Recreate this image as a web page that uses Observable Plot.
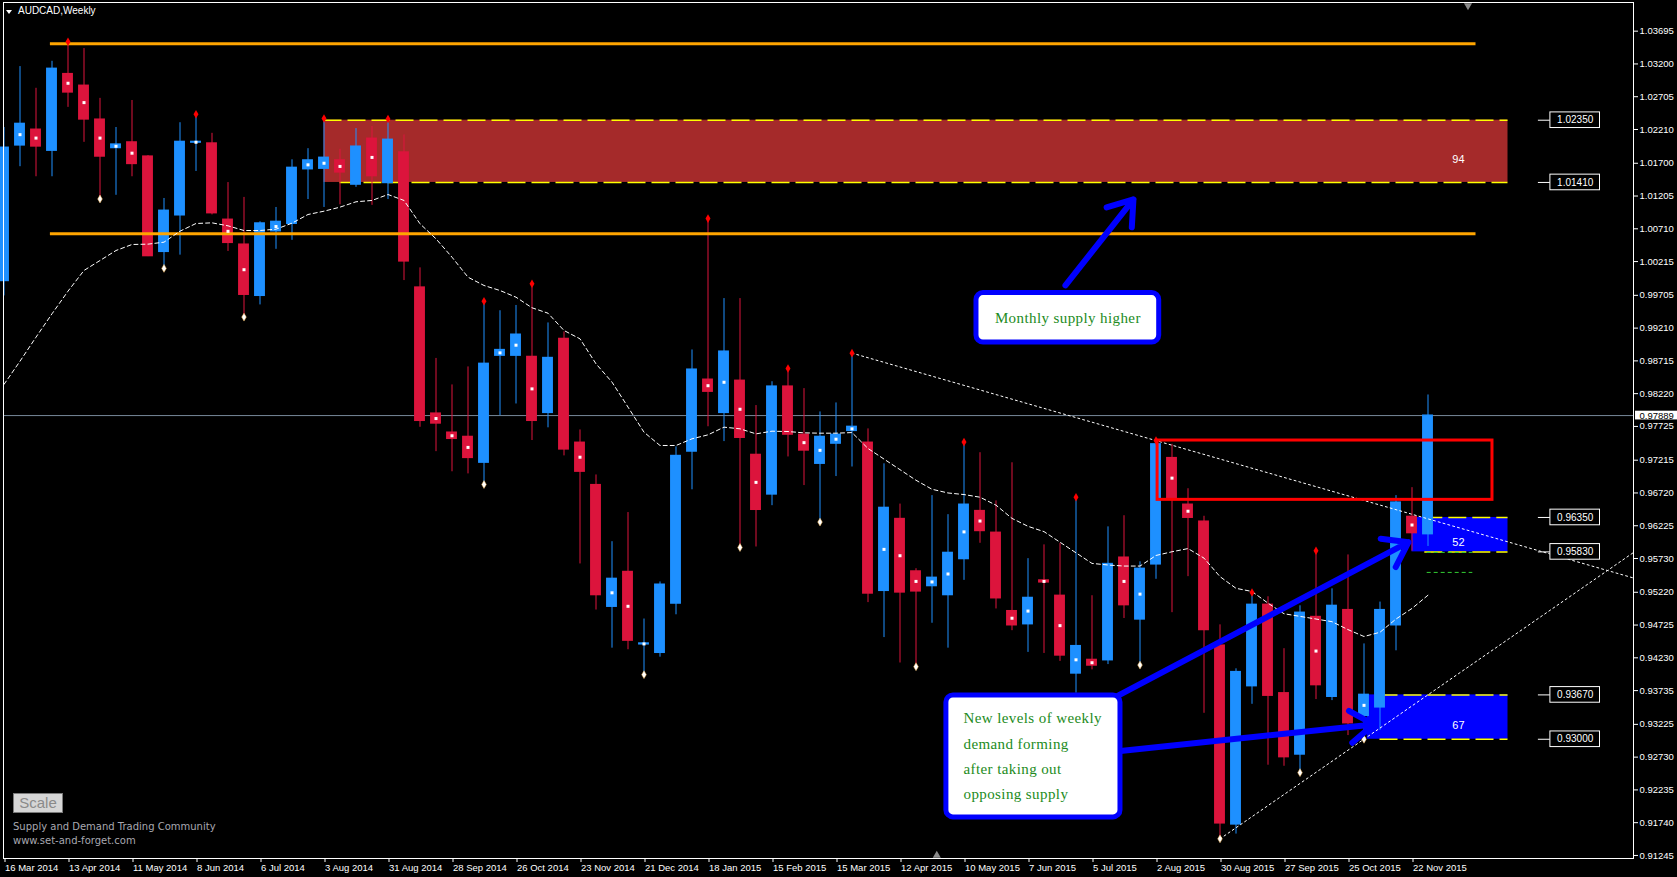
<!DOCTYPE html>
<html>
<head>
<meta charset="utf-8">
<script src="https://cdn.jsdelivr.net/npm/d3@7"></script>
<script src="https://cdn.jsdelivr.net/npm/@observablehq/plot@0.6"></script>
<style>
html,body{margin:0;padding:0;background:#000;}
#wrap{position:relative;width:1677px;height:877px;overflow:hidden;background:#000;}
#wrap svg{display:block;}
#wrap svg g[font-family*="Serif"]{letter-spacing:0.4px;}
.ov{position:absolute;white-space:nowrap;}
#tri{left:6px;top:10px;width:0;height:0;border-left:3px solid transparent;border-right:3px solid transparent;border-top:4px solid #fff;}
#title{left:18px;top:5px;font:10px "Liberation Sans",Arial,sans-serif;color:#fff;}
#scale{left:13px;top:793px;width:48px;height:18px;background:#d6d6d6;border:1px solid #7a7a7a;font:15px "Liberation Sans",Arial,sans-serif;color:#8a8a8a;line-height:18px;text-align:center;}
#cap1{left:13px;top:821px;font:10px "DejaVu Sans",Verdana,sans-serif;color:#a8a8b0;}
#cap2{left:13px;top:835px;font:10px "DejaVu Sans",Verdana,sans-serif;color:#a8a8b0;}
</style>
</head>
<body>
<div id="wrap"></div>
<script>
// ---- data ----
const dateLabels = ["16 Mar 2014","13 Apr 2014","11 May 2014","8 Jun 2014","6 Jul 2014","3 Aug 2014","31 Aug 2014","28 Sep 2014","26 Oct 2014","23 Nov 2014","21 Dec 2014","18 Jan 2015","15 Feb 2015","15 Mar 2015","12 Apr 2015","10 May 2015","7 Jun 2015","5 Jul 2015","2 Aug 2015","30 Aug 2015","27 Sep 2015","25 Oct 2015","22 Nov 2015"];
const labelEvery = 4; // weeks between date labels

const opens = [0.99920,1.01968,1.02208,1.01888,1.03048,1.02872,1.02360,1.01928,1.02016,1.01802,
1.00360,1.00912,1.02010,1.02000,1.00848,1.00472,0.99696,1.00672,1.00784,1.01608,
1.01616,1.01744,1.01376,1.02072,1.01400,1.01864,0.99824,0.97920,0.97632,0.97568,
0.97176,0.98792,0.98792,0.98776,0.97928,0.99048,0.97480,0.96840,0.95000,0.95528,
0.94432,0.94304,0.95048,0.97344,0.98432,0.97928,0.98416,0.97296,0.96696,0.98328,
0.97600,0.97160,0.97464,0.97656,0.97480,0.95240,0.96328,0.95536,0.95312,0.95176,
0.95720,0.96448,0.96120,0.94936,0.94736,0.95400,0.95168,0.93992,0.94200,0.94192,
0.95744,0.94808,0.95640,0.97248,0.96544,0.96288,0.94416,0.91712,0.93800,0.95032,
0.93696,0.92768,0.94848,0.93640,0.94952,0.93352,0.93480,0.94720,0.96360,0.96096];
const highs = [1.02240,1.03160,1.02832,1.03240,1.03536,1.03432,1.02680,1.02240,1.02648,1.01816,
1.01168,1.02312,1.02440,1.02152,1.01408,1.01184,1.00816,1.01032,1.01752,1.01920,
1.02376,1.01912,1.02224,1.02256,1.02368,1.02128,1.00120,0.98752,0.98352,0.98624,
0.99616,0.99472,0.99552,0.99880,0.99288,0.99152,0.97672,0.96992,0.95984,0.96424,
0.94816,0.95376,0.97416,0.98880,1.00864,0.99656,0.99656,0.98040,0.98400,0.98600,
0.98296,0.97944,0.98080,0.98832,0.97688,0.97160,0.96552,0.95576,0.96680,0.96392,
0.97488,0.97328,0.96600,0.97176,0.95728,0.95936,0.95960,0.96656,0.95168,0.96208,
0.96376,0.95680,0.97512,0.97456,0.96784,0.96368,0.94728,0.94064,0.95216,0.95152,
0.94368,0.95016,0.95848,0.95272,0.95784,0.94440,0.95072,0.96680,0.96800,0.98200];
const lows = [0.99696,1.01648,1.01496,1.01496,1.02544,1.02016,1.01160,1.01216,1.01496,1.00290,
1.00112,1.00312,1.01576,1.00920,1.00368,0.99376,0.99560,1.00400,1.00536,1.01152,
1.01032,1.01072,1.01336,1.01064,1.01152,0.99928,0.97712,0.97344,0.97040,0.97008,
0.96848,0.97888,0.98064,0.97512,0.97704,0.97280,0.95648,0.94952,0.94376,0.94352,
0.93976,0.94240,0.94880,0.96768,0.97720,0.97496,0.95896,0.95904,0.96528,0.97264,
0.96832,0.96280,0.96968,0.97112,0.95064,0.94536,0.94152,0.94096,0.94752,0.94376,
0.95400,0.95960,0.94968,0.94640,0.94312,0.94296,0.94176,0.93696,0.94048,0.94128,
0.94824,0.94120,0.95416,0.94912,0.95456,0.93392,0.91496,0.91568,0.93528,0.92608,
0.92592,0.92496,0.93600,0.93584,0.93056,0.93000,0.93136,0.94336,0.95840,0.95912];
const closes = [1.01936,1.02296,1.01952,1.03128,1.02768,1.02360,1.01800,1.01984,1.01688,1.00296,
1.00984,1.02024,1.02024,1.00944,1.00496,0.99712,1.00792,1.00816,1.01632,1.01744,
1.01784,1.01560,1.01952,1.01504,1.02056,1.00216,0.97808,0.97768,0.97536,0.97248,
0.98672,0.98880,0.99112,0.97808,0.98760,0.97376,0.97040,0.95176,0.95424,0.94488,
0.94448,0.95336,0.97280,0.98584,0.98248,0.98856,0.97552,0.96464,0.98328,0.97600,
0.97360,0.97568,0.97600,0.97720,0.95200,0.96496,0.95216,0.95232,0.95440,0.95816,
0.96544,0.96144,0.95128,0.94720,0.95136,0.95368,0.94264,0.94408,0.94112,0.95648,
0.95024,0.95576,0.97456,0.96640,0.96344,0.94648,0.91728,0.94016,0.95032,0.93656,
0.92728,0.94912,0.93816,0.95016,0.93240,0.93672,0.94952,0.96576,0.96112,0.97889];
// slow moving average (white dashed)
const maValues = [0.98360,0.98710,0.99073,0.99426,0.99768,1.00081,1.00231,1.00382,1.00473,1.00478,
1.00508,1.00674,1.00790,1.00800,1.00755,1.00684,1.00684,1.00704,1.00795,1.00926,
1.00976,1.01037,1.01118,1.01138,1.01228,1.01138,1.00786,1.00559,1.00281,0.99979,
0.99854,0.99778,0.99677,0.99517,0.99435,0.99174,0.99048,0.98671,0.98394,0.98017,
0.97638,0.97437,0.97437,0.97538,0.97598,0.97714,0.97689,0.97613,0.97653,0.97648,
0.97628,0.97623,0.97623,0.97632,0.97392,0.97232,0.97072,0.96912,0.96776,0.96720,
0.96696,0.96656,0.96536,0.96336,0.96216,0.96136,0.95976,0.95816,0.95656,0.95632,
0.95616,0.95616,0.95776,0.95832,0.95880,0.95736,0.95456,0.95280,0.95232,0.95056,
0.94896,0.94856,0.94816,0.94776,0.94656,0.94552,0.94616,0.94816,0.94976,0.95176];
// candles carrying a small white mid-body marker
const midDotIdx = [1,2,4,5,6,7,8,12,14,15,17,19,20,21,23,27,28,29,31,32,33,36,38,39,40,44,45,46,47,50,51,52,53,55,56,57,58,59,60,61,63,64,65,66,67,68,70,71,73,74,82,85,88];
// fractal markers
const upFractalIdx = [4,12,20,24,30,33,44,49,53,60,67,72,78,82];
const downFractalIdx = [6,10,15,30,40,46,51,57,71,76,81,85];

// price axis tick labels
const yTicks = [1.03695,1.03200,1.02705,1.02210,1.01700,1.01205,1.00710,1.00215,0.99705,0.99210,0.98715,0.98220,0.97725,0.97215,0.96720,0.96225,0.95730,0.95220,0.94725,0.94230,0.93735,0.93225,0.92730,0.92235,0.91740,0.91245];
const currentPrice = 0.97889;

// horizontal levels
const orangeLevels = [1.03504, 1.00634];
const orangeSpan = [2.9, 92.0];
const zoneNames = ["94", "52", "67"];
const zoneTops = [1.02350, 0.96350, 0.93670];
const zoneBottoms = [1.01410, 0.95830, 0.93000];
const zoneStarts = [20, 88, 85.2];
const zoneEnd = 94;
const zoneFills = ["#A52A2A", "#0000FF", "#0000FF"];
const greenLevels = [0.95822, 0.95520];
const greenSpan = [88.95, 91.8];
// red outline box
const redBox = {x1: 72.1, x2: 93.03, top: 0.97512, bottom: 0.96616};
// dotted trend lines [index, price]
const trendDown = [[53, 0.98832], [101.84, 0.95436]];
const trendUp = [[76, 0.91496], [101.84, 0.95820]];

// annotations (index, price)
const note1Lines = ["Monthly supply higher"];
const note1Box = {x1: 60.78, x2: 72.2, top: 0.99739, bottom: 0.98993};
const note2Lines = ["New levels of weekly", "demand forming", "after taking out", "opposing supply"];
const note2Box = {x1: 58.9, x2: 69.78, top: 0.93662, bottom: 0.91820};
const note2Prices = [0.93315, 0.92922, 0.92552, 0.92167];
const arrows = [
  {x1: 66.34, y1: 0.99856, x2: 70.59, y2: 1.01155},
  {x1: 69.66, y1: 0.93662, x2: 87.78, y2: 0.95977},
  {x1: 69.78, y1: 0.92824, x2: 85.59, y2: 0.93224}
];
const boxedPrices = [1.02350, 1.01410, 0.96350, 0.95830, 0.93670, 0.93000];

// ---- build ----
const BLUE = "#1E90FF", RED = "#DC143C";
const candles = opens.map((o, i) => ({i, open: o, high: highs[i], low: lows[i], close: closes[i]}));
const upC = candles.filter(d => d.close >= d.open);
const dnC = candles.filter(d => d.close < d.open);
const half = 0.34;
const zones = zoneNames.map((n, k) => ({name: n, x1: zoneStarts[k], x2: zoneEnd, top: zoneTops[k], bottom: zoneBottoms[k], fill: zoneFills[k]}));
const tickIdx = dateLabels.map((_, k) => k * labelEvery);
const fmt = d3.format(".5f");
const boxHalfX = 1.55, boxHalfY = 0.00118, boxX = 98.2;

const chart = Plot.plot({
  width: 1677, height: 877,
  marginLeft: 3, marginRight: 44, marginTop: 2, marginBottom: 19,
  x: {type: "linear", domain: [-0.03125, 101.84375], axis: null},
  y: {domain: [0.91199, 1.04128], axis: null},
  style: {background: "#000", color: "#fff", fontFamily: "'Liberation Sans', Arial, sans-serif", fontSize: "9.5px", overflow: "visible"},
  marks: [
    // zones
    Plot.rect(zones, {x1: "x1", x2: "x2", y1: "bottom", y2: "top", fill: d => d.fill}),
    Plot.ruleY(zones, {y: "top", x1: d => d.name === "94" ? d.x1 : d.x1 + 0.8, x2: "x2", stroke: "#FFFF00", strokeWidth: 1.5, strokeDasharray: "18,6"}),
    Plot.ruleY(zones, {y: "bottom", x1: d => d.name === "94" ? d.x1 + 1 : d.x1 + 0.8, x2: "x2", stroke: "#FFFF00", strokeWidth: 1.5, strokeDasharray: "18,6"}),
    Plot.ruleY(greenLevels, {y: d => d, x1: greenSpan[0], x2: greenSpan[1], stroke: "#32CD32", strokeWidth: 1, strokeDasharray: "4,3"}),
    // current price
    Plot.ruleY([currentPrice], {stroke: "#778899", strokeWidth: 1}),
    // wicks and bodies
    Plot.ruleX(upC, {x: "i", y1: "low", y2: "high", stroke: BLUE, strokeWidth: 1}),
    Plot.ruleX(dnC, {x: "i", y1: "low", y2: "high", stroke: RED, strokeWidth: 1}),
    Plot.rect(upC, {x1: d => d.i - half, x2: d => d.i + half, y1: "open", y2: "close", fill: BLUE, insetTop: -0.6, insetBottom: -0.6}),
    Plot.rect(dnC, {x1: d => d.i - half, x2: d => d.i + half, y1: "open", y2: "close", fill: RED, insetTop: -0.6, insetBottom: -0.6}),
    // orange levels
    Plot.ruleY(orangeLevels, {y: d => d, x1: orangeSpan[0], x2: orangeSpan[1], stroke: "#FFA500", strokeWidth: 3}),
    // moving average
    Plot.line(maValues, {x: (d, i) => i, y: d => d, stroke: "#fff", strokeWidth: 1, strokeDasharray: "4,3"}),
    // trend lines
    Plot.line(trendDown, {x: d => d[0], y: d => d[1], stroke: "#fff", strokeWidth: 1, strokeDasharray: "2,3"}),
    Plot.line(trendUp, {x: d => d[0], y: d => d[1], stroke: "#fff", strokeWidth: 1, strokeDasharray: "2,3"}),
    // mid-body markers
    Plot.dot(midDotIdx.map(i => candles[i]), {x: "i", y: d => (d.open + d.close) / 2, symbol: "square", r: 1.7, fill: "#fff"}),
    // fractals
    Plot.dot(upFractalIdx.map(i => candles[i]), {x: "i", y: "high", symbol: "diamond", r: 2.6, fill: "#FF0000"}),
    Plot.dot(downFractalIdx.map(i => candles[i]), {x: "i", y: "low", symbol: "diamond", r: 2.4, fill: "#fff", stroke: "#FFC060", strokeWidth: 0.5}),
    // red outline box
    Plot.rect([redBox], {x1: "x1", x2: "x2", y1: "bottom", y2: "top", fill: "none", stroke: "#FF0000", strokeWidth: 3}),
    // zone labels
    Plot.text(zones, {x: 90.9, y: d => (d.top + d.bottom) / 2, text: "name", fill: "#fff", fontSize: 11, dy: 8}),
    // boxed price labels
    Plot.ruleY(boxedPrices, {y: d => d, x1: zoneEnd + 1.9, x2: boxX - boxHalfX, stroke: "#fff", strokeWidth: 1}),
    Plot.rect(boxedPrices, {x1: boxX - boxHalfX, x2: boxX + boxHalfX, y1: d => d - boxHalfY, y2: d => d + boxHalfY, fill: "#000", stroke: "#fff", strokeWidth: 1}),
    Plot.text(boxedPrices, {x: boxX, y: d => d, text: d => fmt(d), fill: "#fff", fontSize: 10}),
    // current price tag on axis
    Plot.rect([currentPrice], {x1: 101.97, x2: 104.7, y1: d => d - 0.00066, y2: d => d + 0.00066, fill: "#fff"}),
    Plot.text([currentPrice], {x: 102.22, y: d => d, text: d => fmt(d), fill: "#000", textAnchor: "start", fontSize: 9.5}),
    // annotations
    Plot.arrow(arrows, {x1: "x1", y1: "y1", x2: "x2", y2: "y2", stroke: "#0000FF", strokeWidth: 6, headLength: 7, headAngle: 70}),
    Plot.rect([note1Box, note2Box], {x1: "x1", x2: "x2", y1: "bottom", y2: "top", fill: "#fff", stroke: "#0000FF", strokeWidth: 5, rx: 7}),
    Plot.text(note1Lines, {x: (note1Box.x1 + note1Box.x2) / 2, y: (note1Box.top + note1Box.bottom) / 2, text: d => d, fill: "#228B22", fontFamily: "'Liberation Serif', serif", fontSize: 15}),
    Plot.text(note2Lines, {x: 59.97, y: (d, i) => note2Prices[i], text: d => d, textAnchor: "start", fill: "#228B22", fontFamily: "'Liberation Serif', serif", fontSize: 15}),
    // chart shift markers
    Plot.dot([91.5], {x: d => d, frameAnchor: "top", dy: 3, symbol: "triangle", rotate: 180, r: 3, fill: "#8a8a8a"}),
    Plot.dot([58.3], {x: d => d, frameAnchor: "bottom", dy: -3, symbol: "triangle", r: 3, fill: "#8a8a8a"}),
    // axes + frame
    Plot.axisY({ticks: yTicks, anchor: "right", tickSize: 4, tickPadding: 2, tickFormat: fmt, fontSize: 9.5}),
    Plot.axisX({ticks: tickIdx, anchor: "bottom", tickSize: 4, tickPadding: 2, tickFormat: d => dateLabels[d / labelEvery], textAnchor: "start", dx: 1, fontSize: 9.5}),
    Plot.frame({stroke: "#fff", strokeWidth: 1})
  ]
});

const wrap = document.getElementById("wrap");
wrap.appendChild(chart);
const add = (id, txt) => { const el = document.createElement("div"); el.id = id; el.className = "ov"; if (txt) el.textContent = txt; wrap.appendChild(el); };
add("tri");
add("title", "AUDCAD,Weekly");
add("scale", "Scale");
add("cap1", "Supply and Demand Trading Community");
add("cap2", "www.set-and-forget.com");
</script>
</body>
</html>
